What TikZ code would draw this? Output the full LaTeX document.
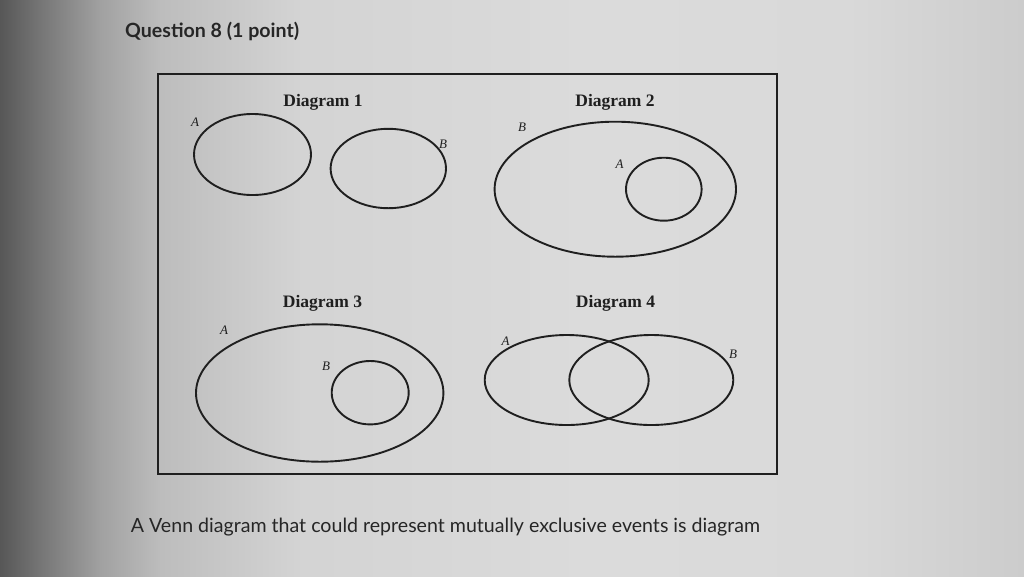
\documentclass[tikz,border=0pt]{standalone}
\usepackage{fontspec}
\usetikzlibrary{shapes.geometric}
\setmainfont{Liberation Serif}
\newfontfamily\uifont{Lato}
\pgfdeclarehorizontalshading{screenbg}{100bp}{%
  color(0bp)=(black!66);
  color(25bp)=(black!66);
  color(26.95bp)=(black!54);
  color(29.88bp)=(black!37);
  color(32.81bp)=(black!26);
  color(39.65bp)=(black!17);
  color(54.3bp)=(black!14);
  color(66.5bp)=(black!15);
  color(75bp)=(black!20);
  color(100bp)=(black!20)}
\definecolor{ink}{gray}{0.12}
\definecolor{txt}{gray}{0.15}
\begin{document}
\begin{tikzpicture}[x=1pt,y=-1pt,
  venn/.style={draw=ink,line width=1.9pt,ellipse,inner sep=0pt},
  dtitle/.style={font=\fontsize{17.5}{20}\selectfont\bfseries,text=ink,anchor=base,inner sep=0pt},
  setlbl/.style={font=\fontsize{13}{15}\selectfont\itshape,text=ink,anchor=base,inner sep=0pt}]
\useasboundingbox (0,0) rectangle (1024,576);
\shade[shading=screenbg] (0,0) rectangle (1024,576);
% frame
\node[draw=ink,line width=1.8pt,minimum width=619pt,minimum height=400pt,inner sep=0pt] (frame) at (467.5,274) {};
% header and question
\node[anchor=base west,inner sep=0pt,text=txt] (head) at (125,37.3)
  {\resizebox{174pt}{!}{\uifont\bfseries Question 8 (1 point)}};
\node[anchor=base west,inner sep=0pt,text=txt] (question) at (130.7,532.3)
  {\resizebox{629pt}{!}{\uifont A Venn diagram that could represent mutually exclusive events is diagram}};
% titles
\node[dtitle] (t1) at (323,106.7) {Diagram 1};
\node[dtitle] (t2) at (615,106.7) {Diagram 2};
\node[dtitle] (t3) at (322.5,307.7) {Diagram 3};
\node[dtitle] (t4) at (615.5,307.7) {Diagram 4};
% Diagram 1
\node[venn,minimum width=117pt,minimum height=81pt] (d1a) at (252.5,154.5) {};
\node[venn,minimum width=115.4pt,minimum height=79.4pt] (d1b) at (388.3,168.5) {};
\node[setlbl] (l1a) at (195,126) {A};
\node[setlbl] (l1b) at (443,148) {B};
% Diagram 2
\node[venn,minimum width=241.4pt,minimum height=135pt] (d2b) at (615.3,189.2) {};
\node[venn,minimum width=75.6pt,minimum height=63pt] (d2a) at (663.8,189.2) {};
\node[setlbl] (l2b) at (522,131.7) {B};
\node[setlbl] (l2a) at (619.5,168) {A};
% Diagram 3
\node[venn,minimum width=247.4pt,minimum height=137.4pt] (d3a) at (319.7,393) {};
\node[venn,minimum width=77pt,minimum height=63.4pt] (d3b) at (370.2,392.7) {};
\node[setlbl] (l3a) at (224,334.3) {A};
\node[setlbl] (l3b) at (326,370.7) {B};
% Diagram 4
\node[venn,minimum width=164pt,minimum height=90pt] (d4a) at (566.7,380) {};
\node[venn,minimum width=164pt,minimum height=90pt] (d4b) at (651.3,380) {};
\node[setlbl] (l4a) at (505.5,345.7) {A};
\node[setlbl] (l4b) at (733,358.3) {B};
\end{tikzpicture}
\end{document}
